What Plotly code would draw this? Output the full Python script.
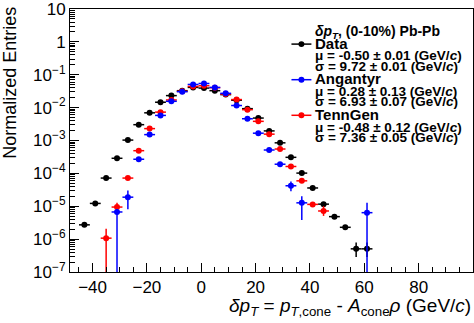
import plotly.graph_objects as go

# ---------------- data ----------------
bin_half_width = 2.0

data_x = [-43, -39, -35, -31, -27, -23, -19, -15, -11, -7, -3, 1, 5, 9, 13, 17, 21, 25, 29, 33, 37, 41, 45, 49, 53, 57, 61]
data_y = [2.72e-6, 1.22e-5, 7.2e-5, 2.88e-4, 1.03e-3, 3.03e-3, 6.95e-3, 0.0146, 0.0232, 0.0328, 0.0412, 0.0393, 0.0328,
          0.0249, 0.0168, 0.0093, 4.82e-3, 1.96e-3, 8.5e-4, 3.08e-4, 1.02e-4, 3.6e-5, 1.16e-5, 4.83e-6, 2.29e-6, 5.06e-7, 5.06e-7]
data_eu = [0, 0, 0, 0, 0, 0, 0, 0, 0, 0, 0, 0, 0, 0, 0, 0, 0, 0, 0, 0, 0, 0, 0, 4e-7, 3e-7, 2.9e-7, 2.9e-7]
data_ed = [0, 0, 0, 0, 0, 0, 0, 0, 0, 0, 0, 0, 0, 0, 0, 0, 0, 0, 0, 0, 0, 0, 0, 4e-7, 3e-7, 2.2e-7, 2.2e-7]

tg_x = [-35, -31, -27, -23, -19, -15, -11, -7, -3, 1, 5, 9, 13, 17, 21, 25, 29, 33, 37, 41, 45]
tg_y = [1.07e-6, 9.46e-6, 7.2e-5, 4.9e-4, 2.30e-3, 7.3e-3, 0.0171, 0.0313, 0.0442, 0.0464, 0.0404, 0.0259, 0.0176,
        8.67e-3, 3.83e-3, 1.56e-3, 5.51e-4, 1.62e-4, 5.93e-5, 1.14e-5, 7.18e-6]
tg_eu = [1.0e-6, 3.3e-6, 0, 0, 0, 0, 0, 0, 0, 0, 0, 0, 0, 0, 0, 0, 0, 0, 0, 1.5e-6, 2.9e-6]
tg_ed = [1.069e-6, 2.3e-6, 0, 0, 0, 0, 0, 0, 0, 0, 0, 0, 0, 0, 0, 0, 0, 0, 0, 1.5e-6, 2.1e-6]

ang_x = [-31, -27, -23, -19, -15, -11, -7, -3, 1, 5, 9, 13, 17, 21, 25, 29, 33, 37, 61]
ang_y = [6.7e-6, 1.89e-5, 2.69e-4, 1.51e-3, 5.8e-3, 0.0156, 0.0306, 0.0507, 0.0543, 0.0412, 0.0272, 0.0116, 4.59e-3,
         1.67e-3, 5.14e-4, 1.90e-4, 4.2e-5, 1.27e-5, 6.38e-6]
ang_eu = [1.5e-6, 1.1e-5, 0, 0, 0, 0, 0, 0.005, 0.005, 0, 0, 0, 0, 0, 0, 0, 1.5e-5, 7.6e-6, 6.3e-6]
ang_ed = [6.69e-6, 1.08e-5, 0, 0, 0, 0, 0, 0.005, 0.005, 0, 0, 0, 0, 0, 0, 0, 1.35e-5, 8.85e-6, 6.37e-6]

series = [
    ("Data", data_x, data_y, data_eu, data_ed, "#000000",
     ["μ = -0.50 ± 0.01 (GeV/<i>c</i>)", "σ = 9.72 ± 0.01 (GeV/<i>c</i>)"]),
    ("Angantyr", ang_x, ang_y, ang_eu, ang_ed, "#0000ff",
     ["μ = 0.28 ± 0.13 (GeV/<i>c</i>)", "σ = 6.93 ± 0.07 (GeV/<i>c</i>)"]),
    ("TennGen", tg_x, tg_y, tg_eu, tg_ed, "#ff0000",
     ["μ = -0.48 ± 0.12 (GeV/<i>c</i>)", "σ = 7.36 ± 0.05 (GeV/<i>c</i>)"]),
]

y_tick_vals = [1e-7, 1e-6, 1e-5, 1e-4, 1e-3, 1e-2, 1e-1, 1, 10]
y_tick_text = ["10<sup>−7</sup>", "10<sup>−6</sup>", "10<sup>−5</sup>", "10<sup>−4</sup>", "10<sup>−3</sup>",
               "10<sup>−2</sup>", "10<sup>−1</sup>", "1", "10"]
x_tick_vals = [-40, -20, 0, 20, 40, 60, 80]
x_tick_text = ["−40", "−20", "0", "20", "40", "60", "80"]

# ---------------- figure ----------------
W, H = 474, 323
ML, MR, MT, MB = 70, 0, 6, 51
PW, PH = W - ML - MR, H - MT - MB
FONT = "Liberation Sans, Arial, Helvetica, sans-serif"


def px2paper(px, py):
    return (px - ML) / PW, (MT + PH - py) / PH


fig = go.Figure()
plot_order = [series[0], series[2], series[1]]
for name, xs, ys, eu, ed, col, _ in plot_order:
    fig.add_trace(go.Scatter(
        x=xs, y=ys, mode="markers", name=name, showlegend=False,
        marker=dict(color=col, size=6, symbol="circle"),
        error_x=dict(type="constant", value=bin_half_width, color=col, thickness=1.5, width=0),
        error_y=dict(type="data", array=eu, arrayminus=ed, symmetric=False, color=col, thickness=1.5, width=0),
    ))

minor_y = []
for e in range(-7, 1):
    for m in range(2, 10):
        minor_y.append(m * 10.0 ** e)

fig.update_layout(
    width=W, height=H, autosize=False,
    margin=dict(l=ML, r=MR, t=MT, b=MB, pad=0),
    paper_bgcolor="white", plot_bgcolor="white",
    font=dict(family=FONT, color="black"),
    xaxis=dict(range=[-48.3, 100], showgrid=False, zeroline=False, showline=True, linecolor="black",
               linewidth=1, mirror=True, ticks="inside", ticklen=9, tickcolor="black", tickwidth=1,
               tickvals=x_tick_vals, ticktext=x_tick_text, tickfont=dict(size=17, family=FONT),
               minor=dict(ticks="inside", ticklen=5, tickcolor="black", dtick=5, tick0=0, showgrid=False)),
    yaxis=dict(type="log", range=[-7, 1.0005], showgrid=False, zeroline=False, showline=True, linecolor="black",
               linewidth=1, mirror=True, ticks="inside", ticklen=9, tickcolor="black", tickwidth=1,
               tickvals=y_tick_vals, ticktext=y_tick_text, tickfont=dict(size=17, family=FONT),
               ticklabeloverflow="allow",
               minor=dict(ticks="inside", ticklen=5, tickcolor="black", tickvals=minor_y, showgrid=False)),
)

ann = []
# y title
yx, yy = px2paper(9.5, 2)
ann.append(dict(text="Normalized Entries", xref="paper", yref="paper", x=yx, y=yy, xanchor="center",
                yanchor="top", textangle=-90, showarrow=False, font=dict(size=18, family=FONT)))
# x title
tx, ty = px2paper(474, 293)
ann.append(dict(text="<i>δp</i><sub><i>T</i></sub> = <i>p</i><sub><i>T</i>,cone</sub> - <i>A</i><sub>cone</sub><i>ρ</i> (GeV/<i>c</i>)",
                xref="paper", yref="paper", x=tx, y=ty, xanchor="right", yanchor="top", showarrow=False,
                font=dict(size=19, family=FONT)))

# legend (drawn as text block)
LX = 314
hx, hy = px2paper(LX, 29.5)
ann.append(dict(text="<b><i>δp</i><sub><i>T</i></sub>, (0-10%) Pb-Pb</b>", xref="paper", yref="paper", x=hx, y=hy,
                xanchor="left", yanchor="middle", showarrow=False, font=dict(size=14, family=FONT)))
name_rows = [40.5, 76.5, 112.5]
for (name, xs, ys, eu, ed, col, lines), ry in zip(series, name_rows):
    px_, py_ = px2paper(LX, ry)
    ann.append(dict(text="<b>" + name + "</b>", xref="paper", yref="paper", x=px_, y=py_, xanchor="left",
                    yanchor="middle", showarrow=False, font=dict(size=15, family=FONT)))
    for k, ln in enumerate(lines):
        px_, py_ = px2paper(LX, ry + 13 + 10.5 * k)
        ann.append(dict(text="<b>" + ln + "</b>", xref="paper", yref="paper", x=px_, y=py_, xanchor="left",
                        yanchor="middle", showarrow=False, font=dict(size=13.5, family=FONT)))
    x0, yl = px2paper(292, ry + 1)
    x1, _ = px2paper(312, ry + 1)
    fig.add_shape(type="line", xref="paper", yref="paper", x0=x0, x1=x1, y0=yl, y1=yl,
                  line=dict(color=col, width=1.5))
    cx, cy = px2paper(302, ry + 1)
    r = 3
    fig.add_shape(type="circle", xref="paper", yref="paper",
                  x0=cx - r / PW, x1=cx + r / PW, y0=cy - r / PH, y1=cy + r / PH,
                  fillcolor=col, line=dict(color=col, width=0))

fig.update_layout(annotations=ann)
fig.write_html("out.html")
